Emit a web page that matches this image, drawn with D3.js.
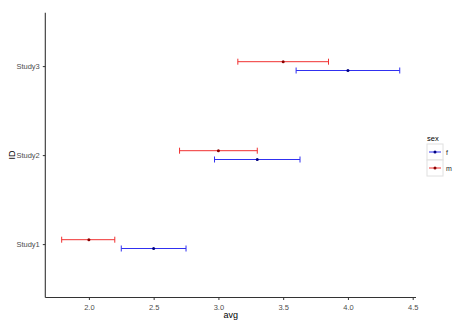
<!DOCTYPE html>
<html>
  <head>
    <script src="https://d3js.org/d3.v7.min.js"></script>
    <style>
      body { margin: 0; background: #fff; }
      text { font-family: "Liberation Sans", Arial, sans-serif; }
    </style>
  </head>
  <body>
    <script>
      // studies on the y axis, sexes dodged within each study
      var studies = ["Study1", "Study2", "Study3"];
      var sexes = ["f", "m"];
      var avgF = [2.5, 3.3, 4.0];
      var lowF = [2.25, 2.97, 3.6];
      var highF = [2.75, 3.63, 4.4];
      var avgM = [2.0, 3.0, 3.5];
      var lowM = [1.79, 2.7, 3.15];
      var highM = [2.2, 3.3, 3.85];
      var xTicks = [2.0, 2.5, 3.0, 3.5, 4.0, 4.5];

      var width = 474, height = 327;
      var mLeft = 45.3, mRight = 416, mTop = 12.7, mBottom = 297.5;

      var rows = [];
      studies.forEach(function(s, i) {
        rows.push({ID: s, sex: "f", avg: avgF[i], lo: lowF[i], hi: highF[i]});
        rows.push({ID: s, sex: "m", avg: avgM[i], lo: lowM[i], hi: highM[i]});
      });

      var x = d3.scaleLinear().domain([1.6635, 4.5255]).range([mLeft, mRight]);
      var y = d3.scalePoint().domain(studies).range([mBottom, mTop]).padding(0.6);
      var dodge = d3.scalePoint().domain(["m", "f"]).range([-4.4, 4.4]);
      var color = d3.scaleOrdinal().domain(sexes).range(["#3030f0", "#f03030"]);
      var dark = d3.scaleOrdinal().domain(sexes).range(["#000080", "#8b0000"]);

      var svg = d3.select("body").append("svg")
          .attr("width", width)
          .attr("height", height);

      // error bars
      var bar = svg.append("g").selectAll("g")
          .data(rows)
          .enter().append("g")
          .attr("transform", function(d) { return "translate(0," + (y(d.ID) + dodge(d.sex)) + ")"; })
          .style("stroke", function(d) { return color(d.sex); })
          .style("stroke-width", 1);

      bar.append("line")
          .attr("x1", function(d) { return x(d.lo); })
          .attr("x2", function(d) { return x(d.hi); });
      bar.append("line")
          .attr("x1", function(d) { return x(d.lo); })
          .attr("x2", function(d) { return x(d.lo); })
          .attr("y1", -3).attr("y2", 3);
      bar.append("line")
          .attr("x1", function(d) { return x(d.hi); })
          .attr("x2", function(d) { return x(d.hi); })
          .attr("y1", -3).attr("y2", 3);
      bar.append("circle")
          .attr("cx", function(d) { return x(d.avg); })
          .attr("r", 1.5)
          .style("stroke", "none")
          .style("fill", function(d) { return dark(d.sex); });

      // axes
      var xAxis = svg.append("g")
          .attr("transform", "translate(0," + mBottom + ")")
          .call(d3.axisBottom(x).tickValues(xTicks).tickFormat(d3.format(".1f")).tickSize(2.5).tickPadding(5));
      var yAxis = svg.append("g")
          .attr("transform", "translate(" + mLeft + ",0)")
          .call(d3.axisLeft(y).tickSize(2.5).tickPadding(3));

      [xAxis, yAxis].forEach(function(a) {
        a.select(".domain").attr("stroke", "#333").attr("stroke-width", 1.1);
        a.selectAll(".tick line").attr("stroke", "#333");
        a.selectAll(".tick text").attr("fill", "#4d4d4d").style("font-size", "7.5px");
      });
      xAxis.select(".domain").attr("d", "M" + mLeft + ",0H" + mRight);
      yAxis.select(".domain").attr("d", "M0," + mTop + "V" + mBottom);

      svg.append("text")
          .attr("x", (mLeft + mRight) / 2).attr("y", 318)
          .attr("text-anchor", "middle")
          .style("font-size", "9px")
          .text("avg");
      svg.append("text")
          .attr("transform", "translate(15," + (mTop + mBottom) / 2 + ") rotate(-90)")
          .attr("text-anchor", "middle")
          .style("font-size", "9px")
          .text("ID");

      // legend
      var legend = svg.append("g").attr("transform", "translate(427,136)");
      legend.append("text")
          .attr("x", 0).attr("y", 4.5)
          .style("font-size", "7.5px")
          .text("sex");
      var key = legend.selectAll(".key")
          .data(sexes)
          .enter().append("g")
          .attr("transform", function(d, i) { return "translate(0," + (8 + i * 16) + ")"; });
      key.append("rect")
          .attr("width", 16).attr("height", 16)
          .style("fill", "#fff")
          .style("stroke", "#e0e0e0");
      key.append("line")
          .attr("x1", 2).attr("x2", 14).attr("y1", 8).attr("y2", 8)
          .style("stroke", function(d) { return color(d); });
      key.append("circle")
          .attr("cx", 8).attr("cy", 8).attr("r", 1.5)
          .style("fill", function(d) { return dark(d); });
      key.append("text")
          .attr("x", 19).attr("y", 10.5)
          .style("font-size", "7px")
          .style("fill", "#222")
          .text(function(d) { return d; });
    </script>
  </body>
</html>
